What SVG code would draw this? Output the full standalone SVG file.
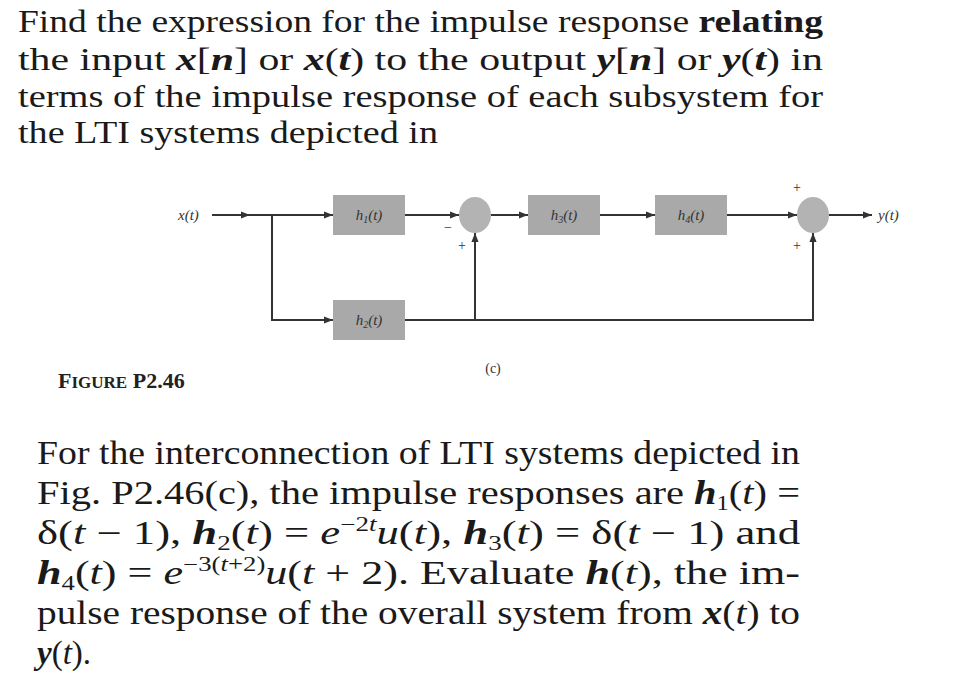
<svg xmlns="http://www.w3.org/2000/svg" width="966" height="687" viewBox="0 0 966 687">
<style>
.t{font-family:"Liberation Serif",serif;font-size:31px;fill:#1a1a1a}
.p{font-family:"Liberation Serif",serif;font-size:33px;fill:#1a1a1a}
.b{font-weight:bold}
.i{font-style:italic}
.bl{font-family:"Liberation Serif",serif;font-size:15px;font-style:italic;fill:#333}
.sg{font-family:"Liberation Serif",serif;font-size:14px;fill:#333}
.box{fill:#a9a9a9}
.sum{fill:#b3b3b3}
.ln{stroke:#333;stroke-width:2;fill:none}
</style>
<defs>
<marker id="ar" viewBox="0 0 10 10" refX="10" refY="5" markerWidth="9" markerHeight="9" markerUnits="userSpaceOnUse" orient="auto"><path d="M0,1 L10,5 L0,9 z" fill="#333"/></marker>
</defs>
<rect width="966" height="687" fill="#fff"/>
<g id="question">
<text class="t" x="18" y="32" textLength="805" lengthAdjust="spacingAndGlyphs">Find the expression for the impulse response <tspan class="b">relating</tspan></text>
<text class="t" x="18" y="70" textLength="805" lengthAdjust="spacingAndGlyphs">the input <tspan class="b i">x</tspan>[<tspan class="b i">n</tspan>] or <tspan class="b i">x</tspan>(<tspan class="b i">t</tspan>) to the output <tspan class="b i">y</tspan>[<tspan class="b i">n</tspan>] or <tspan class="b i">y</tspan>(<tspan class="b i">t</tspan>) in</text>
<text class="t" x="18" y="107" textLength="805" lengthAdjust="spacingAndGlyphs">terms of the impulse response of each subsystem for</text>
<text class="t" x="18" y="143" textLength="420" lengthAdjust="spacingAndGlyphs">the LTI systems depicted in</text>
</g>
<g id="connectors">
<line class="ln" x1="212" y1="215" x2="333" y2="215" marker-end="url(#ar)"/>
<line class="ln" x1="212" y1="215" x2="250" y2="215" marker-end="url(#ar)"/>
<polyline class="ln" points="272,215 272,320 333,320" marker-end="url(#ar)"/>
<line class="ln" x1="405" y1="215" x2="459" y2="215" marker-end="url(#ar)"/>
<line class="ln" x1="491" y1="215" x2="528" y2="215" marker-end="url(#ar)"/>
<line class="ln" x1="600" y1="215" x2="655" y2="215" marker-end="url(#ar)"/>
<line class="ln" x1="727" y1="215" x2="797" y2="215" marker-end="url(#ar)"/>
<line class="ln" x1="829" y1="215" x2="872" y2="215" marker-end="url(#ar)"/>
<polyline class="ln" points="405,320 813,320 813,233" marker-end="url(#ar)"/>
<line class="ln" x1="475" y1="320" x2="475" y2="233" marker-end="url(#ar)"/>
</g>
<g id="x"><text class="bl" x="178" y="220">x(t)</text></g>
<g id="h1"><rect class="box" x="333" y="195" width="72" height="40"/><text class="bl" x="369" y="220" text-anchor="middle">h<tspan font-size="10" dy="3">1</tspan><tspan dy="-3">(t)</tspan></text></g>
<g id="h2"><rect class="box" x="333" y="300" width="72" height="40"/><text class="bl" x="369" y="325" text-anchor="middle">h<tspan font-size="10" dy="3">2</tspan><tspan dy="-3">(t)</tspan></text></g>
<g id="sum1"><ellipse class="sum" cx="475" cy="215" rx="16" ry="18"/><text class="sg" x="444" y="232">−</text><text class="sg" x="458" y="250">+</text></g>
<g id="h3"><rect class="box" x="528" y="195" width="72" height="40"/><text class="bl" x="564" y="220" text-anchor="middle">h<tspan font-size="10" dy="3">3</tspan><tspan dy="-3">(t)</tspan></text></g>
<g id="h4"><rect class="box" x="655" y="195" width="72" height="40"/><text class="bl" x="691" y="220" text-anchor="middle">h<tspan font-size="10" dy="3">4</tspan><tspan dy="-3">(t)</tspan></text></g>
<g id="sum2"><ellipse class="sum" cx="813" cy="215" rx="16" ry="18"/><text class="sg" x="793" y="192">+</text><text class="sg" x="793" y="250">+</text></g>
<g id="y"><text class="bl" x="878" y="220">y(t)</text></g>
<g id="captions">
<text class="sg" x="493" y="373" text-anchor="middle">(c)</text>
<text x="58" y="388" font-family="Liberation Serif,serif" font-weight="bold" font-size="22" fill="#222">F<tspan font-size="17">IGURE</tspan> P2.46</text>
</g>
<g id="problem">
<text class="p" x="37" y="464" textLength="763" lengthAdjust="spacingAndGlyphs">For the interconnection of LTI systems depicted in</text>
<text class="p" x="37" y="504" textLength="763" lengthAdjust="spacingAndGlyphs">Fig. P2.46(c), the impulse responses are <tspan class="b i">h</tspan><tspan font-size="20" dy="6">1</tspan><tspan dy="-6">(</tspan><tspan class="i">t</tspan>) =</text>
<text class="p" x="37" y="544" textLength="763" lengthAdjust="spacingAndGlyphs">δ(<tspan class="i">t</tspan> − 1), <tspan class="b i">h</tspan><tspan font-size="20" dy="6">2</tspan><tspan dy="-6">(</tspan><tspan class="i">t</tspan>) = <tspan class="i">e</tspan><tspan font-size="20" dy="-13">−2<tspan class="i">t</tspan></tspan><tspan class="i" dy="13">u</tspan>(<tspan class="i">t</tspan>), <tspan class="b i">h</tspan><tspan font-size="20" dy="6">3</tspan><tspan dy="-6">(</tspan><tspan class="i">t</tspan>) = δ(<tspan class="i">t</tspan> − 1) and</text>
<text class="p" x="37" y="584" textLength="763" lengthAdjust="spacingAndGlyphs"><tspan class="b i">h</tspan><tspan font-size="20" dy="6">4</tspan><tspan dy="-6">(</tspan><tspan class="i">t</tspan>) = <tspan class="i">e</tspan><tspan font-size="20" dy="-13">−3(<tspan class="i">t</tspan>+2)</tspan><tspan class="i" dy="13">u</tspan>(<tspan class="i">t</tspan> + 2). Evaluate <tspan class="b i">h</tspan>(<tspan class="i">t</tspan>), the im-</text>
<text class="p" x="37" y="624" textLength="763" lengthAdjust="spacingAndGlyphs">pulse response of the overall system from <tspan class="b i">x</tspan>(<tspan class="i">t</tspan>) to</text>
<text class="p" x="37" y="664"><tspan class="b i">y</tspan>(<tspan class="i">t</tspan>).</text>
</g>
</svg>
